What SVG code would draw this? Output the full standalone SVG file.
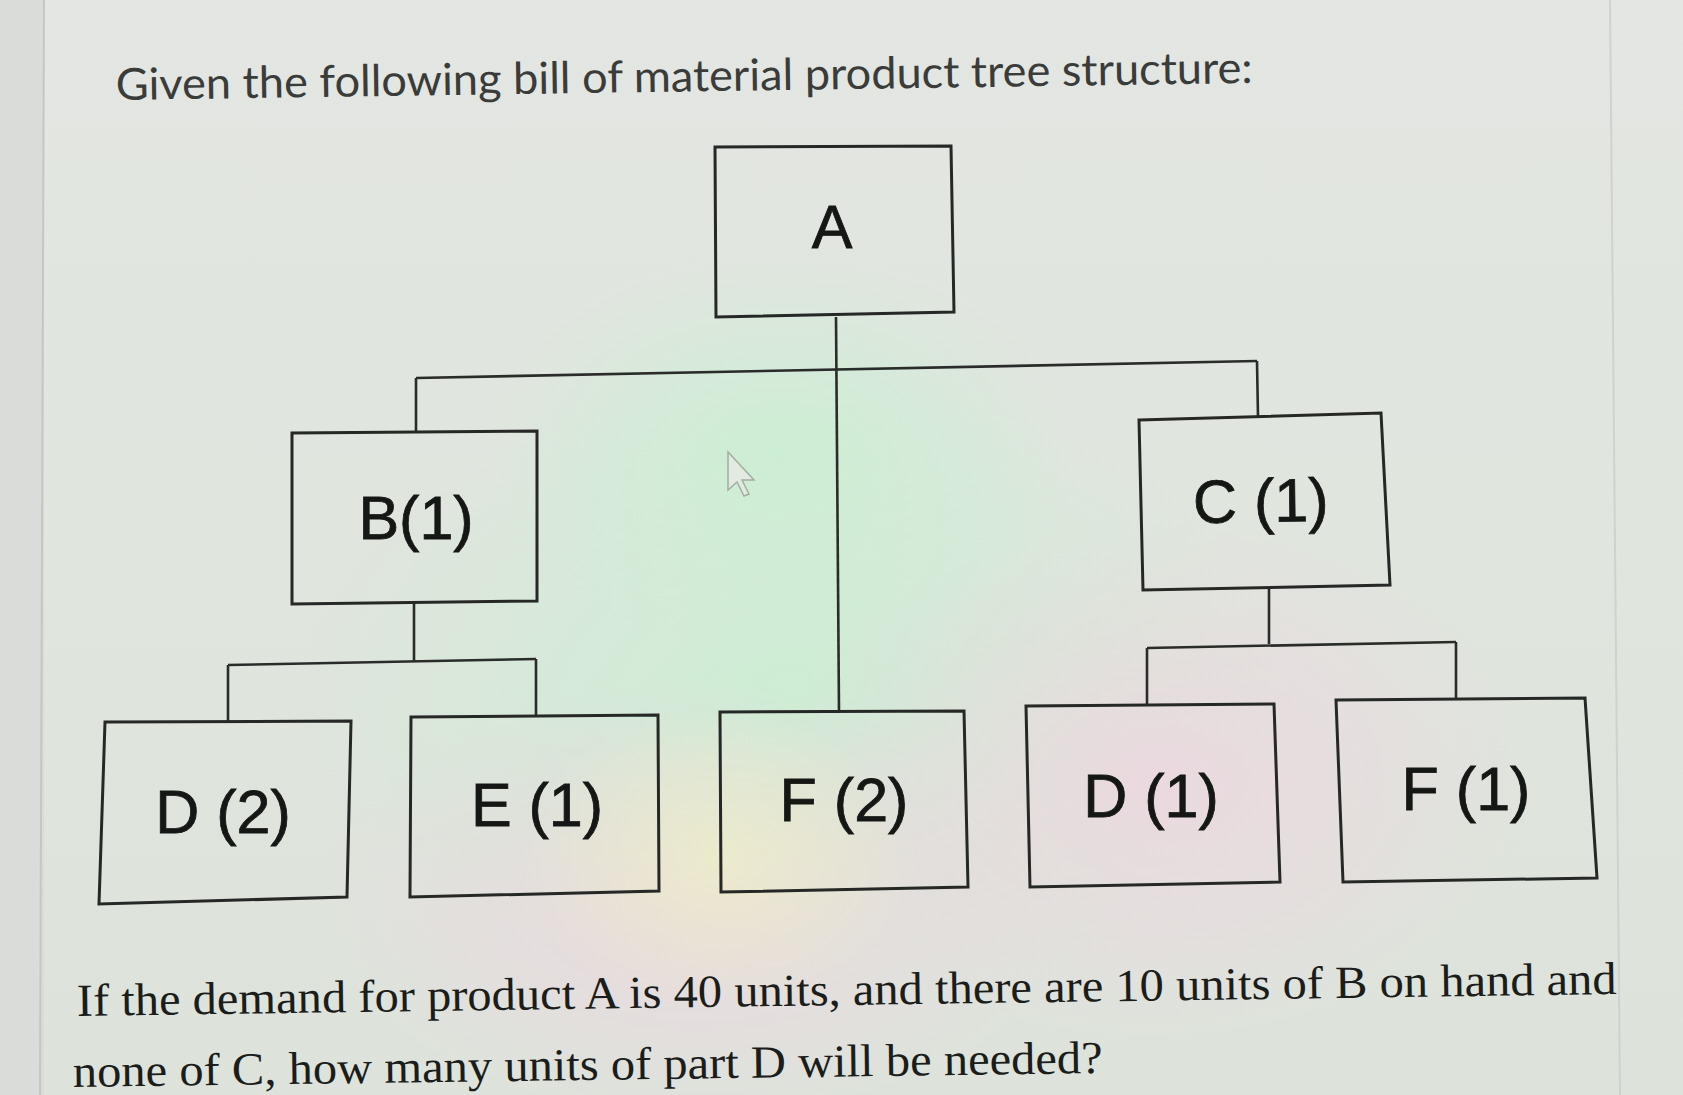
<svg xmlns="http://www.w3.org/2000/svg" width="1683" height="1095" viewBox="0 0 1683 1095">
<defs>
<style>
.box{fill:none;stroke:#262826;stroke-width:3;stroke-linejoin:miter}
.con{fill:none;stroke:#2a2c2a;stroke-width:2.6}
.lbl{font-family:"Liberation Sans",Arial,sans-serif;font-size:61px;fill:#151715;stroke:#151715;stroke-width:0.8;text-anchor:middle}
.title{font-family:Lato,"Open Sans",sans-serif;font-size:44px;fill:#3a3c3a}
.q{font-family:"Liberation Serif","Times New Roman",serif;font-size:46px;fill:#1b1d1b}
</style>
<linearGradient id="bg" x1="0" y1="0" x2="0" y2="1">
<stop offset="0" stop-color="#e3e6e2"/>
<stop offset="0.5" stop-color="#e0e5de"/>
<stop offset="1" stop-color="#dde3db"/>
</linearGradient>
<radialGradient id="g1" cx="0.5" cy="0.5" r="0.5">
<stop offset="0" stop-color="#c9efd2" stop-opacity="0.85"/>
<stop offset="1" stop-color="#c9efd2" stop-opacity="0"/>
</radialGradient>
<radialGradient id="g2" cx="0.5" cy="0.5" r="0.5">
<stop offset="0" stop-color="#f0d4e0" stop-opacity="0.75"/>
<stop offset="1" stop-color="#f0d4e0" stop-opacity="0"/>
</radialGradient>
<radialGradient id="g3" cx="0.5" cy="0.5" r="0.5">
<stop offset="0" stop-color="#edf0c6" stop-opacity="0.75"/>
<stop offset="1" stop-color="#edf0c6" stop-opacity="0"/>
</radialGradient>
</defs>
<rect x="0" y="0" width="1683" height="1095" fill="url(#bg)"/>
<ellipse cx="800" cy="700" rx="500" ry="320" fill="url(#g1)"/>
<ellipse cx="700" cy="900" rx="380" ry="220" fill="url(#g2)"/>
<ellipse cx="1150" cy="780" rx="380" ry="260" fill="url(#g2)"/>
<ellipse cx="720" cy="860" rx="200" ry="150" fill="url(#g3)"/>
<ellipse cx="780" cy="450" rx="300" ry="200" fill="url(#g1)"/>
<rect x="0" y="0" width="44" height="1095" fill="#d9dcd8"/>
<line x1="44" y1="0" x2="40" y2="1095" stroke="#c4c7c3" stroke-width="2"/>
<line x1="1610" y1="0" x2="1620" y2="1095" stroke="#cfd2ce" stroke-width="2"/>

<text class="title" x="116" y="100" textLength="1137" lengthAdjust="spacingAndGlyphs" transform="rotate(-0.86 116 100)">Given the following bill of material product tree structure:</text>

<g id="connectors">
<line class="con" x1="836" y1="317" x2="839" y2="712"/>
<line class="con" x1="416" y1="378" x2="1257" y2="361"/>
<line class="con" x1="416" y1="378" x2="416" y2="432"/>
<line class="con" x1="1257" y1="361" x2="1258" y2="417"/>
<line class="con" x1="414" y1="603" x2="414" y2="661"/>
<line class="con" x1="228" y1="665" x2="536" y2="659"/>
<line class="con" x1="228" y1="665" x2="228" y2="722"/>
<line class="con" x1="536" y1="659" x2="536" y2="716"/>
<line class="con" x1="1269" y1="588" x2="1269" y2="644"/>
<line class="con" x1="1147" y1="648" x2="1456" y2="642"/>
<line class="con" x1="1147" y1="648" x2="1147" y2="705"/>
<line class="con" x1="1456" y1="642" x2="1456" y2="699"/>
</g>

<g id="node-A">
<polygon class="box" points="715,147 951,146 954,312 716,317"/>
<text class="lbl" x="832" y="248" font-size="56">A</text>
</g>
<g id="node-B">
<polygon class="box" points="292,433 537,431 537,601 292,604"/>
<text class="lbl" x="416" y="539">B(1)</text>
</g>
<g id="node-C">
<polygon class="box" points="1139,420 1381,413 1390,585 1143,590"/>
<text class="lbl" x="1261" y="522" transform="rotate(-0.8 1261 522)">C (1)</text>
</g>
<g id="node-D2">
<polygon class="box" points="105,722 351,721 347,897 99,904"/>
<text class="lbl" x="223" y="833">D (2)</text>
</g>
<g id="node-E1">
<polygon class="box" points="411,717 658,715 659,891 410,897"/>
<text class="lbl" x="537" y="826">E (1)</text>
</g>
<g id="node-F2">
<polygon class="box" points="720,712 964,711 968,887 721,892"/>
<text class="lbl" x="844" y="821">F (2)</text>
</g>
<g id="node-D1">
<polygon class="box" points="1026,706 1274,704 1280,882 1030,887"/>
<text class="lbl" x="1151" y="817">D (1)</text>
</g>
<g id="node-F1">
<polygon class="box" points="1336,700 1585,698 1597,878 1343,882"/>
<text class="lbl" x="1466" y="810">F (1)</text>
</g>

<path d="M728,452 L728,490 L737,482 L744,496 L749,494 L742,480 L754,480 Z" fill="#e6ebe4" stroke="#9a9e99" stroke-width="1.5" opacity="0.8"/>

<text class="q" x="77" y="1016" textLength="1540" lengthAdjust="spacingAndGlyphs" transform="rotate(-0.82 77 1016)">If the demand for product A is 40 units, and there are 10 units of B on hand and</text>
<text class="q" x="73" y="1087" textLength="1030" lengthAdjust="spacingAndGlyphs" transform="rotate(-0.78 73 1087)">none of C, how many units of part D will be needed?</text>
</svg>
